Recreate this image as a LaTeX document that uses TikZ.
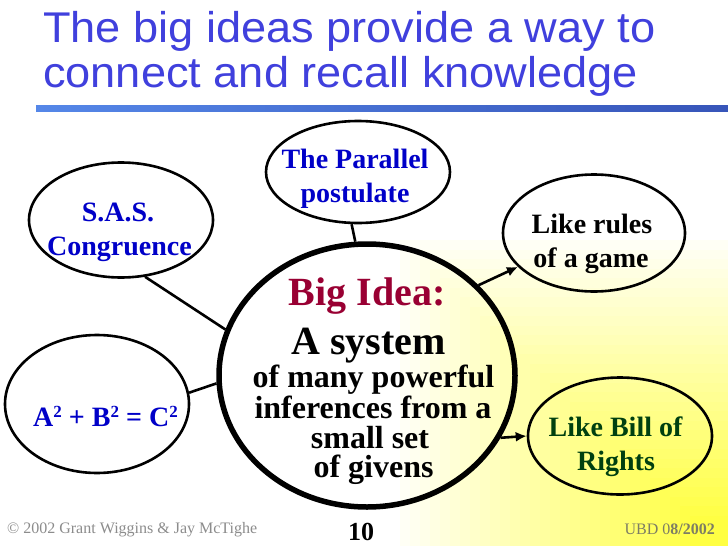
\documentclass[tikz,border=0pt]{standalone}
\usepackage{fontspec}
\setmainfont{Liberation Serif}
\newfontfamily\titlefont{Liberation Sans}
\usetikzlibrary{shapes.geometric,arrows.meta}
\definecolor{titleblue}{RGB}{64,64,221}
\definecolor{nodeblue}{RGB}{0,0,200}
\definecolor{bigred}{RGB}{153,0,51}
\definecolor{billgreen}{RGB}{0,64,16}
\definecolor{footgray}{RGB}{140,140,140}
\definecolor{ubdgray}{RGB}{125,125,100}
\definecolor{barleft}{RGB}{85,135,232}
\definecolor{barright}{RGB}{55,85,185}
\definecolor{bgyellow}{RGB}{255,255,0}
\newcommand{\sqsup}{\raisebox{9pt}{\fontsize{17}{17}\selectfont 2}}
\tikzset{
  bub/.style={ellipse, draw, line width=2.6pt, inner sep=0pt, minimum width=184pt},
  bigbub/.style={ellipse, draw, line width=5.5pt, inner sep=0pt, minimum width=296pt, minimum height=263pt},
  link/.style={line width=2.6pt},
  arrowlink/.style={line width=2.6pt, -{Latex[length=11pt,width=10pt]}},
  bubtxt/.style={anchor=base, inner sep=0pt, font=\bfseries\fontsize{28}{33}\selectfont},
  bigtxt/.style={anchor=base, inner sep=0pt, font=\bfseries\fontsize{32}{32}\selectfont},
  titletxt/.style={anchor=base west, inner sep=0pt, text=titleblue, font=\titlefont\fontsize{43}{45}\selectfont},
  foottxt/.style={inner sep=0pt, font=\fontsize{16}{16}\selectfont}
}
\begin{document}
\begin{tikzpicture}[x=1pt,y=-1pt]
\useasboundingbox (0,0) rectangle (728,546);
\fill[white] (0,0) rectangle (728,546);
% background yellow gradient from bottom-right corner
\foreach \i [evaluate=\i as \xx using 400+\i*10,
             evaluate=\i as \yy using 240+\i*9.5,
             evaluate=\i as \c using 4+\i*2.4] in {0,...,29}
  \fill[bgyellow!\c!white] (\xx,\yy) rectangle (728,546);
% title
\node[titletxt] (t1) at (43,42) {\scalebox{1.05}[1]{The big ideas provide a way to}};
\node[titletxt] (t2) at (43,87) {\scalebox{1.05}[1]{connect and recall knowledge}};
\shade[left color=barleft, right color=barright] (36,105) rectangle (728,111);
% bubbles
\node[bigbub] (big) at (367,375.5) {};
\node[bub, minimum height=102pt] (par) at (358,172) {};
\node[bub, minimum height=115pt] (sas) at (121,220) {};
\node[bub, minimum height=138pt] (pyt) at (97,404) {};
\node[bub, minimum width=182pt, minimum height=117pt] (rul) at (594,233) {};
\node[bub, minimum height=117pt] (bil) at (620,436) {};
% connectors
\draw[link] (par.-97) -- (big.95);
\draw[link] (sas.-67) -- (big.162);
\draw[link] (pyt.7) -- (big.183);
\draw[arrowlink] (big.39) -- (rul.204);
\draw[arrowlink] (big.-25) -- (bil.west);
% bubble texts
\node[bubtxt, text=nodeblue] (par1) at (355,168) {The Parallel};
\node[bubtxt, text=nodeblue] (par2) at (355,202) {postulate};
\node[bubtxt, text=nodeblue] (sas1) at (118,221) {S.A.S.};
\node[bubtxt, text=nodeblue] (sas2) at (119.5,255) {Congruence};
\node[bubtxt, text=nodeblue] (pyt1) at (105.5,426) {A\sqsup{} + B\sqsup{} = C\sqsup};
\node[bubtxt] (rul1) at (592,233) {Like rules};
\node[bubtxt] (rul2) at (591,267) {of a game};
\node[bubtxt, text=billgreen] (bil1) at (615.5,436) {Like Bill of};
\node[bubtxt, text=billgreen] (bil2) at (616,470) {Rights};
% big idea text
\node[bigtxt, text=bigred, font=\bfseries\fontsize{40}{40}\selectfont] (bi1) at (367,305) {Big Idea:};
\node[bigtxt, font=\bfseries\fontsize{40}{40}\selectfont] (bi2) at (368.5,354) {A system};
\node[bigtxt] (bi3) at (373.5,387) {of many powerful};
\node[bigtxt] (bi4) at (373,418) {inferences from a};
\node[bigtxt] (bi5) at (370,448) {small set};
\node[bigtxt] (bi6) at (373.5,477) {of givens};
% footer
\node[foottxt, anchor=base west, text=footgray] (f1) at (7,533) {\textcopyright{} 2002 Grant Wiggins \& Jay McTighe};
\node[foottxt, anchor=base, font=\bfseries\fontsize{26}{26}\selectfont] (f2) at (361,540) {10};
\node[foottxt, anchor=base east, text=ubdgray] (f3) at (715,534) {UBD 0\textbf{8/2002}};
\end{tikzpicture}
\end{document}
